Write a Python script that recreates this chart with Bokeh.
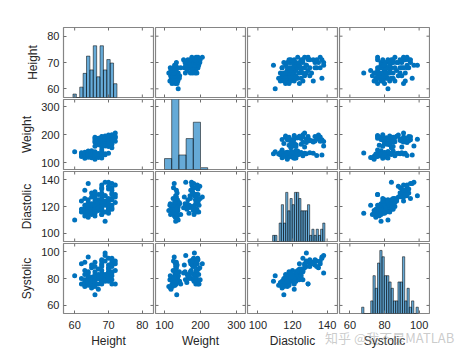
import numpy as np
from bokeh.plotting import figure
from bokeh.layouts import gridplot, column
from bokeh.models import Range1d, LinearAxis, FixedTicker, Div
from bokeh.embed import file_html
from bokeh.resources import INLINE

# ---------------- data ----------------
var_names = ["Height", "Weight", "Diastolic", "Systolic"]

height = [60, 62, 62, 62, 63, 63, 63, 63, 63, 63, 63, 64, 64, 64, 64, 64, 64, 64, 64, 64,
          64, 64, 64, 65, 65, 65, 65, 65, 65, 65, 65, 66, 66, 66, 66, 66, 66, 66, 66, 66,
          66, 67, 67, 67, 68, 68, 68, 68, 69, 69, 70,
          66, 66, 66, 66, 66, 67, 67, 67, 68, 68, 68, 68, 68, 68, 68, 68, 68, 68, 68, 69,
          69, 69, 69, 69, 69, 70, 70, 70, 70, 70, 70, 70, 70, 70, 70, 71, 71, 71, 71, 71,
          71, 71, 71, 71, 71, 72, 72, 72, 72]

weight = [138, 121, 130, 135, 115, 128, 131, 124, 137, 133, 122, 119, 126, 129, 132, 136, 123, 130, 127, 134,
          125, 141, 131, 117, 128, 133, 126, 122, 135, 129, 142, 112, 130, 127, 134, 124, 136, 131, 121, 138,
          126, 132, 118, 129, 125, 137, 145, 116, 131, 128, 133,
          158, 172, 185, 178, 190, 163, 187, 176, 155, 182, 169, 193, 180, 186, 174, 191, 162, 188, 179, 184,
          171, 195, 159, 189, 183, 166, 192, 177, 186, 157, 198, 181, 175, 194, 168, 187, 173, 196, 181, 165,
          190, 178, 199, 184, 153, 205, 188, 176, 193]

diastolic = [110, 118, 124, 116, 121, 113, 119, 126, 117, 132, 115, 120, 114, 122, 117, 125, 118, 112, 137, 119,
             116, 123, 121, 114, 120, 127, 118, 115, 130, 116, 122, 117, 124, 119, 115, 121, 113, 128, 118, 120,
             116, 125, 121, 117, 134, 119, 114, 122, 109, 123, 118,
             120, 126, 118, 131, 116, 122, 129, 119, 127, 114, 121, 133, 117, 125, 120, 136, 118, 123, 130, 121,
             128, 116, 138, 124, 128, 119, 126, 133, 117, 122, 135, 120, 138, 124, 115, 129, 132, 121, 137, 125,
             118, 130, 126, 134, 119, 127, 123, 136, 129]

systolic = [82, 76, 91, 80, 79, 75, 83, 86, 78, 92, 74, 81, 77, 84, 76, 80, 79, 75, 96, 82,
            78, 85, 77, 73, 80, 88, 81, 79, 90, 76, 78, 74, 83, 80, 68, 79, 77, 89, 75, 82,
            81, 87, 72, 80, 93, 78, 76, 82, 78, 80, 84,
            79, 85, 81, 92, 77, 83, 76, 80, 90, 78, 82, 94, 79, 84, 86, 91, 77, 81, 89, 80,
            93, 83, 97, 79, 99, 81, 95, 90, 78, 85, 88, 83, 84, 87, 80, 92, 91, 76, 95, 82,
            85, 94, 79, 89, 84, 91, 86, 93, 76]

data = {"Height": height, "Weight": weight, "Diastolic": diastolic, "Systolic": systolic}

axis_limits = {"Height": (56.7, 83.3), "Weight": (75, 325),
               "Diastolic": (94, 146), "Systolic": (54, 106)}
axis_ticks = {"Height": [60, 70, 80], "Weight": [100, 200, 300],
              "Diastolic": [100, 120, 140], "Systolic": [60, 80, 100]}

# histogram bins and counts (diagonal panels)
hist_start = {"Height": 59.5, "Weight": 100, "Diastolic": 108.5, "Systolic": 66.8}
hist_width = {"Height": 1.0, "Weight": 20, "Diastolic": 1.26, "Systolic": 1.31}
height_counts = [1, 0, 3, 7, 12, 8, 15, 6, 15, 8, 11, 10, 4]
weight_counts = [6, 42, 8, 17, 26, 1]
diastolic_counts = [1, 1, 0, 3, 6, 3, 8, 5, 7, 6, 8, 8, 7, 5, 5, 5, 6, 1, 2, 1, 2, 1, 2, 3]
systolic_counts = [1, 0, 0, 0, 2, 6, 4, 8, 10, 9, 6, 6, 5, 4, 2, 2, 5, 5, 9, 2, 4, 1, 2, 0, 1]
hist_counts = {"Height": height_counts, "Weight": weight_counts,
               "Diastolic": diastolic_counts, "Systolic": systolic_counts}
hist_ymax = {"Height": 20.3, "Weight": 38.5, "Diastolic": 11.4, "Systolic": 11.1}

watermark = "知乎 @我不是MATLAB"

# ---------------- styling ----------------
BLUE = "#0072BD"
FONT = "Liberation Sans"
TXT = "#262626"
BOX = "#858585"
TICK = "#6e6e6e"
TICK_LEN = 3

FW, FH = 90, 70
LB, TB, BB, GAP = 63, 27, 42, 1


def add_label_axis(p, side, ticks, label, range_name=None):
    ax = LinearAxis(ticker=FixedTicker(ticks=ticks))
    if range_name is not None:
        ax.y_range_name = range_name
    ax.axis_line_color = None
    ax.major_tick_in = TICK_LEN
    ax.major_tick_out = 0
    ax.major_tick_line_color = TICK
    ax.minor_tick_line_color = None
    ax.major_label_text_font = FONT
    ax.major_label_text_font_size = "11px"
    ax.major_label_text_color = TXT
    ax.major_label_standoff = 4 if side == "left" else 7
    ax.axis_label = label
    ax.axis_label_text_font = FONT
    ax.axis_label_text_font_size = "12px"
    ax.axis_label_text_font_style = "normal"
    ax.axis_label_text_color = TXT
    ax.axis_label_standoff = 4 if side == "left" else 2
    p.add_layout(ax, side)


def inner_ticks(p, side, ticks, lims, range_name=None):
    """Inward tick marks drawn through the panel's own scales."""
    kw = dict(length=TICK_LEN, length_units="screen", line_color=TICK, line_width=1,
              y_range_name=range_name or "default")
    n = len(ticks)
    if side == "below":
        p.ray(x=ticks, y=[lims[0]] * n, angle=np.pi / 2, **kw)
    elif side == "above":
        p.ray(x=ticks, y=[lims[1]] * n, angle=-np.pi / 2, **kw)
    elif side == "left":
        p.ray(x=[lims[0]] * n, y=ticks, angle=0, **kw)
    elif side == "right":
        p.ray(x=[lims[1]] * n, y=ticks, angle=np.pi, **kw)


grid_rows = []
for i, yv in enumerate(var_names):
    row = []
    for j, xv in enumerate(var_names):
        left = LB if j == 0 else GAP
        top = TB if i == 0 else GAP
        bottom = BB if i == 3 else GAP
        right = GAP
        diag = (i == j)
        y_rng = Range1d(0, hist_ymax[xv]) if diag else Range1d(*axis_limits[yv])
        p = figure(width=left + FW + right, height=top + FH + bottom,
                   x_range=Range1d(*axis_limits[xv]), y_range=y_rng,
                   x_axis_location=None, y_axis_location=None,
                   toolbar_location=None, tools="", output_backend="svg",
                   min_border_left=left, min_border_right=right,
                   min_border_top=top, min_border_bottom=bottom)
        p.grid.visible = False
        p.outline_line_color = BOX
        p.outline_line_width = 1.2
        p.background_fill_color = "white"
        p.border_fill_color = "white"

        yname = None
        if diag:
            p.extra_y_ranges = {"v": Range1d(*axis_limits[yv])}
            yname = "v"
        xlims = axis_limits[xv]
        ylims = axis_limits[yv]

        if diag:
            counts = np.array(hist_counts[xv], dtype=float)
            edges = hist_start[xv] + hist_width[xv] * np.arange(len(counts) + 1)
            p.quad(left=edges[:-1], right=edges[1:], bottom=0, top=counts,
                   fill_color=BLUE, fill_alpha=0.6,
                   line_color="#000000", line_alpha=0.75, line_width=0.7)
        else:
            p.scatter(x=data[xv], y=data[yv], size=5, marker="circle",
                      fill_color=BLUE, line_color=None)

        # labelled axes on the outer edge, inward tick marks elsewhere
        if j == 0:
            add_label_axis(p, "left", axis_ticks[yv], yv, yname)
        else:
            inner_ticks(p, "left", axis_ticks[yv], xlims, yname)
        inner_ticks(p, "right", axis_ticks[yv], xlims, yname)
        if i == 3:
            add_label_axis(p, "below", axis_ticks[xv], xv)
        else:
            inner_ticks(p, "below", axis_ticks[xv], ylims, yname)
        inner_ticks(p, "above", axis_ticks[xv], ylims, yname)

        row.append(p)
    grid_rows.append(row)

grid = gridplot(grid_rows, toolbar_location=None)

mark = Div(text=watermark,
           styles={"position": "absolute", "left": "320px", "top": "324px",
                   "font-family": "Noto Sans CJK SC", "font-size": "13px",
                   "color": "rgba(160,160,160,0.55)", "white-space": "nowrap",
                   "overflow": "visible", "width": "150px",
                   "z-index": "10", "pointer-events": "none"})

page = column(grid, mark)

open("out.html", "w").write(file_html(page, INLINE))
